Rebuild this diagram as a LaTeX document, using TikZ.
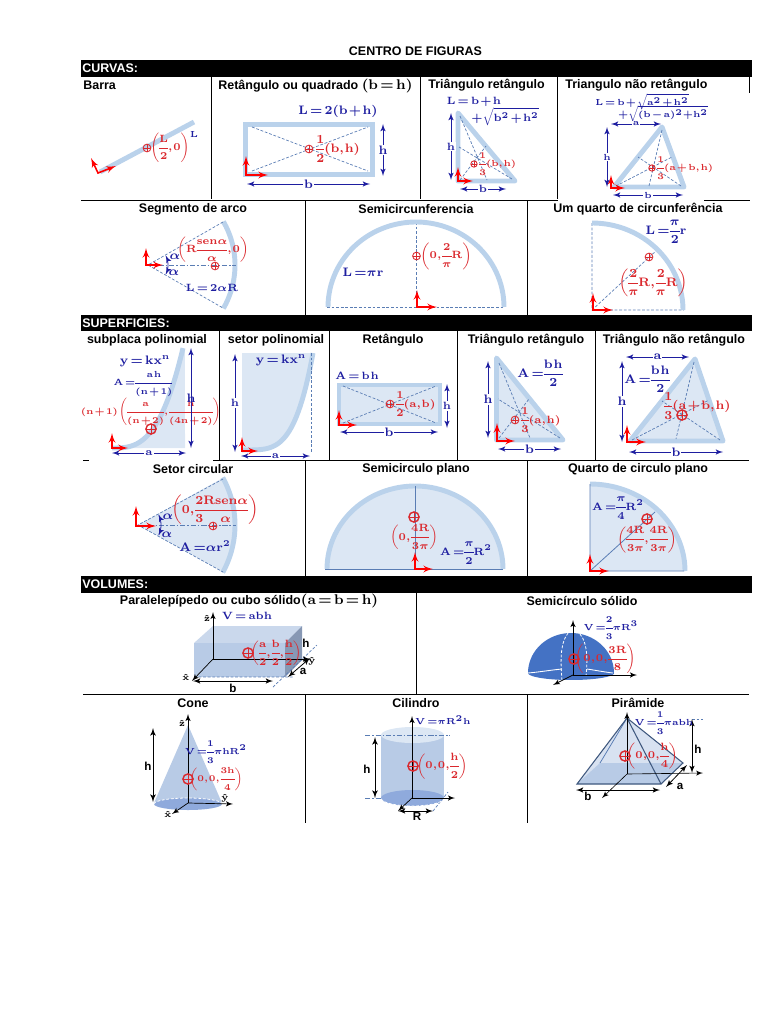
\documentclass[tikz,border=0pt]{standalone}
\usepackage{amsmath}
\usepackage{fontspec}
\setsansfont{Liberation Sans}
\usetikzlibrary{arrows}
\definecolor{barblue}{RGB}{186,210,235}
\definecolor{areablue}{RGB}{220,231,244}
\definecolor{formblue}{RGB}{30,30,160}
\definecolor{formred}{RGB}{218,40,45}
\definecolor{guideblue}{RGB}{90,125,180}
\definecolor{solidlight}{RGB}{184,203,230}
\definecolor{solidmid}{RGB}{143,170,220}
\definecolor{soliddark}{RGB}{135,152,180}
\definecolor{domeblue}{RGB}{68,114,196}
\AtBeginDocument{\thickmuskip=2.5mu \medmuskip=1.5mu \thinmuskip=1mu \nulldelimiterspace=0pt}
\newcommand{\capmath}[1]{{\fontsize{7.6}{9}\selectfont\rmfamily$\mathbf{#1}$}}
\tikzstyle{head} = [font=\sffamily\bfseries\boldmath\fontsize{7.1}{8.5}\selectfont, inner sep=0pt]
\tikzstyle{barhead} = [head, text=white]
\tikzset{blueform/.style={text=formblue, font=\rmfamily\bfseries\boldmath\fontsize{#1}{#1}\selectfont, inner sep=0pt},
  redform/.style={text=formred, font=\rmfamily\bfseries\boldmath\fontsize{#1}{#1}\selectfont, inner sep=0pt},
  dimtext/.style={text=formblue, font=\rmfamily\bfseries\boldmath\fontsize{#1}{#1}\selectfont, inner sep=0.6pt, fill=white}}
\tikzstyle{rule} = [draw=black, line width=0.55pt]
\tikzstyle{curveline} = [draw=barblue, line width=2.8pt]
\tikzstyle{guide} = [draw=guideblue, line width=0.4pt, dash pattern=on 1.6pt off 1pt]
\tikzstyle{dashdot} = [guide, dash pattern=on 3pt off 1pt on 1pt off 1pt]
\tikzstyle{solidguide} = [draw=guideblue, line width=0.45pt]
\tikzstyle{redaxis} = [draw=red, line width=0.9pt, latex'-latex']
\tikzstyle{dimline} = [draw=formblue, line width=0.45pt, latex'-latex']
\tikzstyle{blackdim} = [draw=black, line width=0.45pt, latex'-latex']
\tikzstyle{blacktext} = [font=\sffamily\bfseries\fontsize{6.6}{8}\selectfont, inner sep=0.6pt]
\tikzstyle{hatlabel} = [font=\rmfamily\bfseries\boldmath\fontsize{5.5}{7}\selectfont, inner sep=0pt]
\tikzstyle{blackaxis} = [draw=black, line width=0.4pt, -latex']
\tikzstyle{whitedash} = [white, line width=0.45pt, dash pattern=on 1.6pt off 1pt]
\tikzstyle{cg} = [circle, draw=formred, line width=0.5pt, minimum size=4.4pt, inner sep=0pt,
    path picture={\draw[formred, line width=0.5pt] (path picture bounding box.north) -- (path picture bounding box.south)
      (path picture bounding box.west) -- (path picture bounding box.east);}]
\tikzstyle{smallcg} = [cg, minimum size=3.6pt]
\tikzstyle{bigcg} = [cg, line width=0.8pt, minimum size=5.8pt]
\begin{document}
\begin{tikzpicture}[x=0.02cm, y=-0.02cm]
  \useasboundingbox (0,0) rectangle (768,1024);
  % bars and table rules
  \node [head] (title) at (415.5,51) {CENTRO DE FIGURAS};
  \fill [black] (81,60) rectangle (752,77);
  \fill [black] (81,315) rectangle (752,331);
  \fill [black] (81,576) rectangle (752,593);
  \node [barhead, anchor=west] (curvas) at (82,68.5) {CURVAS:};
  \node [barhead, anchor=west] (superficies) at (82,323) {SUPERFICIES:};
  \node [barhead, anchor=west] (volumes) at (82,584.5) {VOLUMES:};
  \draw [rule] (211.5,77) -- (211.5,199) (420,77) -- (420,199) (557.5,77) -- (557.5,199) (749.5,77) -- (749.5,93);
  \draw [rule] (81,200) -- (558,200) (704,200) -- (750,200);
  \draw [rule] (305,200) -- (305,315) (527,200) -- (527,315);
  \draw [rule] (219.5,331) -- (219.5,460) (329.5,331) -- (329.5,460) (457.5,331) -- (457.5,460) (595,331) -- (595,460);
  \draw [rule] (213,460) -- (749,460) (83,460.5) -- (89,460.5);
  \draw [rule] (305,460) -- (305,576) (527,460) -- (527,576);
  \draw [rule] (416,593) -- (416,694);
  \draw [rule] (83,694) -- (749,694);
  \draw [rule] (305,694) -- (305,823) (527,694) -- (527,823);
  % curvas
  \node [head, anchor=west] (barra) at (83,85) {Barra};
  \draw [curveline] (100,172) -- (194,122);
  \draw [redaxis] (91,158) -- (98,173) -- (116,166);
  \node [cg] (cgBarra) at (147,148) {};
  \node [redform=5.6] (fBarra) at (170,148) {$\left(\dfrac{\mathbf{L}}{\mathbf{2}},\mathbf{0}\right)$};
  \node [blueform=5.5] (lBarra) at (194,134) {$\mathbf{L}$};

  \node [head, anchor=west] (retCurva) at (218,86) {Retângulo ou quadrado \capmath{(b=h)}};
  \draw [curveline] (245.5,124.5) rectangle (372.5,174.5);
  \draw [guide] (252,127) -- (368,171) (252,171) -- (368,127);
  \draw [redaxis] (246,156) -- (246,175) -- (268,175);
  \node [cg] (cgRet) at (309,149) {};
  \node [redform=7.1, anchor=west] (fRet) at (316,149) {$\dfrac{\mathbf{1}}{\mathbf{2}}\mathbf{(b,h)}$};
  \node [blueform=6.9] (lRet) at (338,111) {$\mathbf{L=2(b+h)}$};
  \draw [dimline] (383,124) -- node [dimtext=7.2] (hRet) {$\mathbf{h}$} (383,176);
  \draw [dimline] (247,184) -- node [dimtext=7.2] (bRet) {$\mathbf{b}$} (370,184);

  \node [head, anchor=west] (triCurva) at (428,85) {Triângulo retângulo};
  \draw [curveline, line join=round] (458,113) -- (458,181) -- (515,181) -- cycle;
  \draw [guide] (460,116) -- (487,180) (460,180) -- (486,146) (512,179) -- (459,147);
  \draw [redaxis] (458,167) -- (458,181) -- (473,181);
  \node [smallcg] (cgTri) at (474,164) {};
  \node [redform=5.3, anchor=west] (fTri) at (479,164) {$\dfrac{\mathbf{1}}{\mathbf{3}}\mathbf{(b,h)}$};
  \node [blueform=5.6] (lTriA) at (474,102) {$\mathbf{L=b+h}$};
  \node [blueform=5.6] (lTriB) at (505,117) {$\mathbf{+\sqrt{b^2+h^2}}$};
  \draw [dimline] (451,113) -- node [dimtext=6] (hTri) {$\mathbf{h}$} (451,180);
  \draw [dimline] (460,189) -- node [dimtext=6] (bTri) {$\mathbf{b}$} (506,189);

  \node [head, anchor=west] (triNao) at (565,85) {Triangulo não retângulo};
  \draw [curveline, line join=round] (614,187) -- (662,127) -- (684,187) -- cycle;
  \draw [guide] (662,130) -- (649,186) (616,186) -- (672,157) (681,186) -- (638,157);
  \draw [redaxis] (611,175) -- (611,188) -- (625,188);
  \node [smallcg] (cgNao) at (652,168) {};
  \node [redform=5.3, anchor=west] (fNao) at (657,168) {$\dfrac{\mathbf{1}}{\mathbf{3}}\mathbf{(a+b,h)}$};
  \node [blueform=5] (lNaoA) at (642,102) {$\mathbf{L=b+\sqrt{a^2+h^2}}$};
  \node [blueform=5] (lNaoB) at (663,114) {$\mathbf{+\sqrt{(b-a)^2{+}h^2}}$};
  \draw [dimline] (611,124) -- node [dimtext=5.5] (aNao) {$\mathbf{a}$} (661,124);
  \draw [dimline] (607,127) -- node [dimtext=5.5] (hNao) {$\mathbf{h}$} (607,187);
  \draw [dimline] (613,195) -- node [dimtext=5.5] (bNao) {$\mathbf{b}$} (683,195);

  % arcos
  \node [head] (segArco) at (193,209) {Segmento de arco};
  \draw [curveline] plot [domain=30:-30, samples=30] ({148+87*cos(\x)},{265-87*sin(\x)});
  \draw [guide] (223,222) -- (148,265) -- (223,308);
  \draw [dashdot] (148,265) -- (236,265);
  \draw [dimline] plot [domain=28:-28, samples=20] ({148+20*cos(\x)},{265-20*sin(\x)});
  \draw [redaxis] (146,248) -- (146,265) -- (163,265);
  \node [cg] (cgSeg) at (215,266) {};
  \node [redform=6] (fSeg) at (213,250) {$\left(\mathbf{R}\dfrac{\mathbf{sen}\alpha}{\alpha},\mathbf{0}\right)$};
  \node [blueform=6.8] (alSegA) at (175,257) {$\alpha$};
  \node [blueform=6.8] (alSegB) at (174,273) {$\alpha$};
  \node [blueform=6] (lSeg) at (212,288) {$\mathbf{L=2}\alpha\mathbf{R}$};

  \node [head] (semiCirc) at (416,209) {Semicircunferencia};
  \draw [guide] (327,307) -- (505,307) (416.5,222) -- (416.5,307);
  \draw [curveline] plot [domain=180:0, samples=60] ({416+88*cos(\x)},{307-85*sin(\x)});
  \draw [redaxis] (417,290) -- (417,307) -- (437,307);
  \node [cg] (cgSemi) at (416.5,256) {};
  \node [redform=6.4] (fSemi) at (446,256) {$\left(\mathbf{0},\dfrac{\mathbf{2}}{\pi}\mathbf{R}\right)$};
  \node [blueform=6.6] (lSemi) at (363,272) {$\mathbf{L=}\pi\mathbf{r}$};

  \node [head] (quartoCirc) at (638,209) {Um quarto de circunferência};
  \draw [guide] (592,223) -- (592,310) -- (684,310) (592,310) -- (657,250);
  \draw [curveline] plot [domain=90:0, samples=40] ({592+91*cos(\x)},{310-87*sin(\x)});
  \draw [redaxis] (593,293) -- (593,310) -- (613,310);
  \node [cg] (cgQuarto) at (649,257) {};
  \node [redform=6.6] (fQuarto) at (653,283) {$\left(\dfrac{\mathbf{2}}{\pi}\mathbf{R},\dfrac{\mathbf{2}}{\pi}\mathbf{R}\right)$};
  \node [blueform=6.6] (lQuarto) at (666,232) {$\mathbf{L=}\dfrac{\pi}{\mathbf{2}}\mathbf{r}$};

  % superficies
  \node [head] (subplaca) at (147,340) {subplaca polinomial};
  \fill [areablue] plot [domain=0:1, samples=40] ({112+73*\x},{448-100*\x^3}) -- (185,448) -- cycle;
  \draw [curveline] plot [domain=0:1, samples=40] ({112+71*\x},{448-100*\x^3});
  \draw [redaxis] (112,433) -- (112,448) -- (128,448);
  \node [blueform=7.2] (ySub) at (145,361) {$\mathbf{y=kx^n}$};
  \node [blueform=5.5] (aSub) at (143,384) {$\mathbf{A=}\dfrac{\mathbf{a\,h}}{\mathbf{(n+1)}}$};
  \node [redform=5.2] (fSub) at (151,412) {$\mathbf{(n+1)}\left(\dfrac{\mathbf{a}}{\mathbf{(n+2)}},\dfrac{\mathbf{h}}{\mathbf{(4n+2)}}\right)$};
  \node [bigcg] (cgSub) at (151,429) {};
  \draw [dimline] (191,348) -- node [dimtext=7.2, fill=none] (hSub) {$\mathbf{h}$} (191,448);
  \draw [dimline] (112,453) -- node [dimtext=6] (bSub) {$\mathbf{a}$} (186,453);

  \node [head] (setorPol) at (276,340) {setor polinomial};
  \fill [areablue] plot [domain=0:1, samples=40] ({242+73*\x},{450-97*\x^4}) -- (242,353) -- cycle;
  \draw [curveline] plot [domain=0:1, samples=40] ({242+71*\x},{450-97*\x^4});
  \draw [guide] (311,353) -- (311,453);
  \draw [redaxis] (242,437) -- (242,451) -- (258,451);
  \node [blueform=7.2] (ySetor) at (281,360) {$\mathbf{y=kx^n}$};
  \draw [dimline] (235,354) -- node [dimtext=6.4] (hSetor) {$\mathbf{h}$} (235,452);
  \draw [dimline] (241,456) -- node [dimtext=6] (aSetor) {$\mathbf{a}$} (310,456);

  \node [head] (retSup) at (393,340) {Retângulo};
  \draw [curveline, line width=2.4pt, fill=areablue] (339,385) rectangle (440,424);
  \draw [guide] (343,386) -- (436,423) (343,423) -- (436,386);
  \draw [redaxis] (339,410) -- (339,425) -- (357,425);
  \node [cg] (cgRetS) at (390,404) {};
  \node [redform=6.5, anchor=west] (fRetS) at (396,404) {$\dfrac{\mathbf{1}}{\mathbf{2}}\mathbf{(a,b)}$};
  \node [blueform=6.4] (aRetS) at (357,375.5) {$\mathbf{A=b\,h}$};
  \draw [dimline] (447,384) -- node [dimtext=6.4] (hRetS) {$\mathbf{h}$} (447,428);
  \draw [dimline] (340,432) -- node [dimtext=7.2] (bRetS) {$\mathbf{b}$} (438,432);

  \node [head] (triSup) at (526,340) {Triângulo retângulo};
  \draw [curveline, fill=areablue, line join=round] (496.5,358) -- (496.5,440) -- (563,440) -- cycle;
  \draw [guide] (499,363) -- (530,438) (499,438) -- (529,399) (560,438) -- (498,399);
  \draw [redaxis] (497,423) -- (497,441) -- (515,441);
  \node [cg] (cgTriS) at (515,420) {};
  \node [redform=6.5, anchor=west] (fTriS) at (521,420) {$\dfrac{\mathbf{1}}{\mathbf{3}}\mathbf{(a,h)}$};
  \node [blueform=7.3] (aTriS) at (540,373) {$\mathbf{A=}\dfrac{\mathbf{b\,h}}{\mathbf{2}}$};
  \draw [dimline] (488,361) -- node [dimtext=7.2] (hTriS) {$\mathbf{h}$} (488,438);
  \draw [dimline] (498,449) -- node [dimtext=7.2] (bTriS) {$\mathbf{b}$} (561,449);

  \node [head] (naoSup) at (674,340) {Triângulo não retângulo};
  \draw [curveline, fill=areablue, line join=round] (630,441) -- (695,359) -- (723,441) -- cycle;
  \draw [guide] (694,362) -- (676,439) (632,440) -- (709,400) (720,440) -- (662,401);
  \draw [redaxis] (627,425) -- (627,442) -- (646,442);
  \node [bigcg] (cgNaoS) at (682,415) {};
  \node [redform=6.6, anchor=west] (fNaoS) at (664,406) {$\dfrac{\mathbf{1}}{\mathbf{3}}\mathbf{(a+b,h)}$};
  \node [blueform=7.3] (aNaoS) at (647,379) {$\mathbf{A=}\dfrac{\mathbf{b\,h}}{\mathbf{2}}$};
  \draw [dimline] (626,357) -- node [dimtext=7.2] (dNaoS) {$\mathbf{a}$} (689,357);
  \draw [dimline] (622,361) -- node [dimtext=7.2] (hNaoS) {$\mathbf{h}$} (622,442);
  \draw [dimline] (629,452) -- node [dimtext=7.2] (bNaoS) {$\mathbf{b}$} (723,452);

  \node [head] (setorCirc) at (193,469) {Setor circular};
  \fill [areablue] (138,525) -- plot [domain=29:-29, samples=30] ({138+98*cos(\x)},{525-98*sin(\x)}) -- cycle;
  \draw [curveline] plot [domain=29:-29, samples=30] ({137+98*cos(\x)},{525-98*sin(\x)});
  \draw [guide] (223,479) -- (138,525) -- (223,572);
  \draw [dashdot] (138,525) -- (236,525);
  \draw [dimline] plot [domain=27:-27, samples=20] ({138+23*cos(\x)},{525-23*sin(\x)});
  \draw [redaxis] (136,506) -- (136,526) -- (156,526);
  \node [cg] (cgSetor) at (213,526) {};
  \node [redform=7] (fSetor) at (215,510) {$\left(\mathbf{0},\dfrac{\mathbf{2}}{\mathbf{3}}\dfrac{\mathbf{Rsen}\alpha}{\alpha}\right)$};
  \node [blueform=6.8] (alSetA) at (168,517) {$\alpha$};
  \node [blueform=6.8] (alSetB) at (167,535) {$\alpha$};
  \node [blueform=6.7] (aSetor2) at (205,546) {$\mathbf{A=}\alpha\mathbf{r^2}$};

  \node [head] (semiPlano) at (416,469) {Semicirculo plano};
  \fill [areablue] plot [domain=180:0, samples=60] ({415+89*cos(\x)},{569-84*sin(\x)}) -- cycle;
  \draw [curveline] plot [domain=180:0, samples=60] ({415+88*cos(\x)},{569-83*sin(\x)});
  \draw [solidguide] (325,569.5) -- (503,569.5) (415,486) -- (415,569);
  \draw [redaxis] (415,552) -- (415,569) -- (433,569);
  \node [bigcg] (cgSemiP) at (414,517) {};
  \node [redform=5.8] (fSemiP) at (414,537) {$\left(\mathbf{0},\dfrac{\mathbf{4R}}{\mathbf{3}\pi}\right)$};
  \node [blueform=6.2] (aSemiP) at (466,553) {$\mathbf{A=}\dfrac{\pi}{\mathbf{2}}\mathbf{R^2}$};

  \node [head] (quartoPlano) at (638,469) {Quarto de circulo plano};
  \fill [areablue] (590,571) -- plot [domain=90:0, samples=40] ({590+96*cos(\x)},{571-88*sin(\x)}) -- cycle;
  \draw [curveline] plot [domain=90:0, samples=40] ({590+95*cos(\x)},{571-87*sin(\x)});
  \draw [solidguide] (590,484) -- (590,571) -- (684,571) (590,571) -- (655,512);
  \draw [redaxis] (590,554) -- (590,571) -- (609,571);
  \node [bigcg] (cgQuartoP) at (647,519) {};
  \node [redform=6.2] (fQuartoP) at (647,539.5) {$\left(\dfrac{\mathbf{4R}}{\mathbf{3}\pi},\dfrac{\mathbf{4R}}{\mathbf{3}\pi}\right)$};
  \node [blueform=6.4] (aQuartoP) at (618,508) {$\mathbf{A=}\dfrac{\pi}{\mathbf{4}}\mathbf{R^2}$};

  % volumes
  \node [head] (paral) at (249,601) {Paralelepípedo ou cubo sólido\capmath{(a=b=h)}};
  \fill [solidlight!75!white] (194,643) -- (213,626) -- (302,626) -- (285,643) -- cycle;
  \fill [solidlight] (194,643) rectangle (285,677);
  \fill [soliddark] (285,643) -- (302,626) -- (302,660) -- (285,677) -- cycle;
  \draw [guide] (194,677) -- (293,677) (273,687) -- (317,645);
  \draw [blackaxis] (213,659) -- (213,612);
  \draw [blackaxis] (213,659) -- (310,659);
  \draw [blackaxis] (213,659) -- (192,681);
  \draw [blackdim] (193,681) -- (273,681);
  \draw [blackdim] (288,677) -- (310,658);
  \node [hatlabel] (zParal) at (207,618) {$\hat{\mathbf{z}}$};
  \node [hatlabel] (xParal) at (186,677) {$\hat{\mathbf{x}}$};
  \node [hatlabel] (yParal) at (312,661) {$\hat{\mathbf{y}}$};
  \node [blacktext] (hParal) at (306,643) {h};
  \node [blacktext] (aParal) at (303,671) {a};
  \node [blacktext] (bParal) at (233,688) {b};
  \node [blueform=6] (vParal) at (247,616) {$\mathbf{V=abh}$};
  \node [bigcg] (cgParal) at (248,653) {};
  \node [redform=5.8] (fParal) at (276,653) {$\left(\dfrac{\mathbf{a}}{\mathbf{2}},\dfrac{\mathbf{b}}{\mathbf{2}},\dfrac{\mathbf{h}}{\mathbf{2}}\right)$};

  \node [head] (semiSol) at (582,601) {Semicírculo sólido};
  \fill [domeblue] plot [domain=180:0, samples=50] ({571+43*cos(\x)},{673-40*sin(\x)}) -- plot [domain=0:-180, samples=30] ({571+43*cos(\x)},{673-7*sin(\x)}) -- cycle;
  \draw [whitedash] (568,633) .. controls (559,645) and (561,665) .. (562,681);
  \draw [whitedash] (580,634) .. controls (589,645) and (587,665) .. (586,676);
  \draw [white, line width=0.5pt] (528,673) .. controls (540,672) and (551,670) .. (562,669);
  \draw [white, line width=0.5pt] (587,669) .. controls (594,670) and (604,672) .. (613,673);
  \draw [blackaxis] (573,675) -- (573,620);
  \draw [blackaxis] (573,675) -- (637,675);
  \draw [blackaxis] (573,675) -- (553,685);
  \node [bigcg] (cgSemiS) at (574,659) {};
  \node [redform=5.6] (fSemiS) at (605,659) {$\left(\mathbf{0},\mathbf{0},\dfrac{\mathbf{3R}}{\mathbf{8}}\right)$};
  \node [blueform=5.3] (vSemiS) at (611,628) {$\mathbf{V=}\dfrac{\mathbf{2}}{\mathbf{3}}\pi\mathbf{R^3}$};

  \node [head] (cone) at (193,703) {Cone};
  \fill [solidlight] (188,725) -- (154,803) -- (222,803) -- cycle;
  \fill [solidmid] (188,804) ellipse (34 and 6);
  \draw [whitedash] plot [domain=180:0, samples=30] ({188+34*cos(\x)},{804-6*sin(\x)});
  \draw [blackaxis] (188,803) -- (188,714);
  \draw [blackaxis] (188,803) -- (233,804);
  \draw [blackaxis] (188,803) -- (172,814);
  \draw [blackdim, line width=0.5pt] (153,728) -- (153,802);
  \node [hatlabel] (zCone) at (182,723) {$\hat{\mathbf{z}}$};
  \node [hatlabel] (yCone) at (225,798) {$\hat{\mathbf{y}}$};
  \node [hatlabel] (xCone) at (168,814) {$\hat{\mathbf{x}}$};
  \node [blacktext] (hCone) at (148,766) {h};
  \node [blueform=5] (vCone) at (216,752) {$\mathbf{V=}\dfrac{\mathbf{1}}{\mathbf{3}}\pi\mathbf{hR^2}$};
  \node [bigcg] (cgCone) at (188,779) {};
  \node [redform=5.4] (fCone) at (216,779) {$\left(\mathbf{0},\mathbf{0},\dfrac{\mathbf{3h}}{\mathbf{4}}\right)$};

  \node [head] (cilindro) at (416,703) {Cilindro};
  \fill [solidlight] (381,735) rectangle (444,798);
  \fill [solidmid] (412.5,798) ellipse (31.5 and 8);
  \fill [areablue] (412.5,735) ellipse (31.5 and 8);
  \draw [dashdot] (365,735) -- (450,735) (365,798) -- (381,798);
  \draw [guide] (433,811) -- (448,792);
  \draw [whitedash] plot [domain=0:-180, samples=30] ({412.5+31.5*cos(\x)},{798-8*sin(\x)});
  \draw [blackaxis] (412,798) -- (412,716);
  \draw [blackaxis] (412,798) -- (455,798);
  \draw [blackaxis] (412,798) -- (398,811);
  \draw [blackdim] (398,811) -- (433,811);
  \draw [blackdim, line width=0.5pt] (375,737) -- (375,798);
  \node [blacktext] (hCil) at (367,769) {h};
  \node [blacktext] (rCil) at (417,817) {R};
  \node [blueform=5.5] (vCil) at (443,720) {$\mathbf{V=}\pi\mathbf{R^2h}$};
  \node [bigcg] (cgCil) at (413,766) {};
  \node [redform=6] (fCil) at (442,766) {$\left(\mathbf{0},\mathbf{0},\dfrac{\mathbf{h}}{\mathbf{2}}\right)$};

  \node [head] (piramide) at (638,703) {Pirâmide};
  \fill [solidlight!55!white] (627,718) -- (577,784) -- (661,784) -- (683,763) -- cycle;
  \fill [solidlight] (577,784) -- (600,763) -- (683,763) -- (661,784) -- cycle;
  \draw [solidguide] (627,718) -- (600,763);
  \draw [draw=guideblue!70!black, line width=0.6pt] (627,718) -- (577,784) -- (661,784) -- (683,763) -- (627,718) -- (661,784);
  \draw [guide] (692,719) -- (703,719);
  \draw [blackaxis, line width=0.35pt] (627,774) -- (627,712);
  \draw [blackaxis, line width=0.35pt] (627,774) -- (703,773);
  \draw [blackaxis, line width=0.35pt] (627,774) -- (602,798);
  \draw [blackdim] (692,719) -- (692,773);
  \draw [blackdim] (666,787) -- (687,765);
  \draw [blackdim] (576,790) -- (660,790);
  \node [blacktext] (hPir) at (698,749) {h};
  \node [blacktext] (aPir) at (680,786) {a};
  \node [blacktext] (bPir) at (588,796) {b};
  \node [blueform=5.1] (vPir) at (664,723) {$\mathbf{V=}\dfrac{\mathbf{1}}{\mathbf{3}}\pi\mathbf{abh}$};
  \node [bigcg] (cgPir) at (625,756) {};
  \node [redform=6.2] (fPir) at (652,756) {$\left(\mathbf{0},\mathbf{0},\dfrac{\mathbf{h}}{\mathbf{4}}\right)$};
\end{tikzpicture}
\end{document}
